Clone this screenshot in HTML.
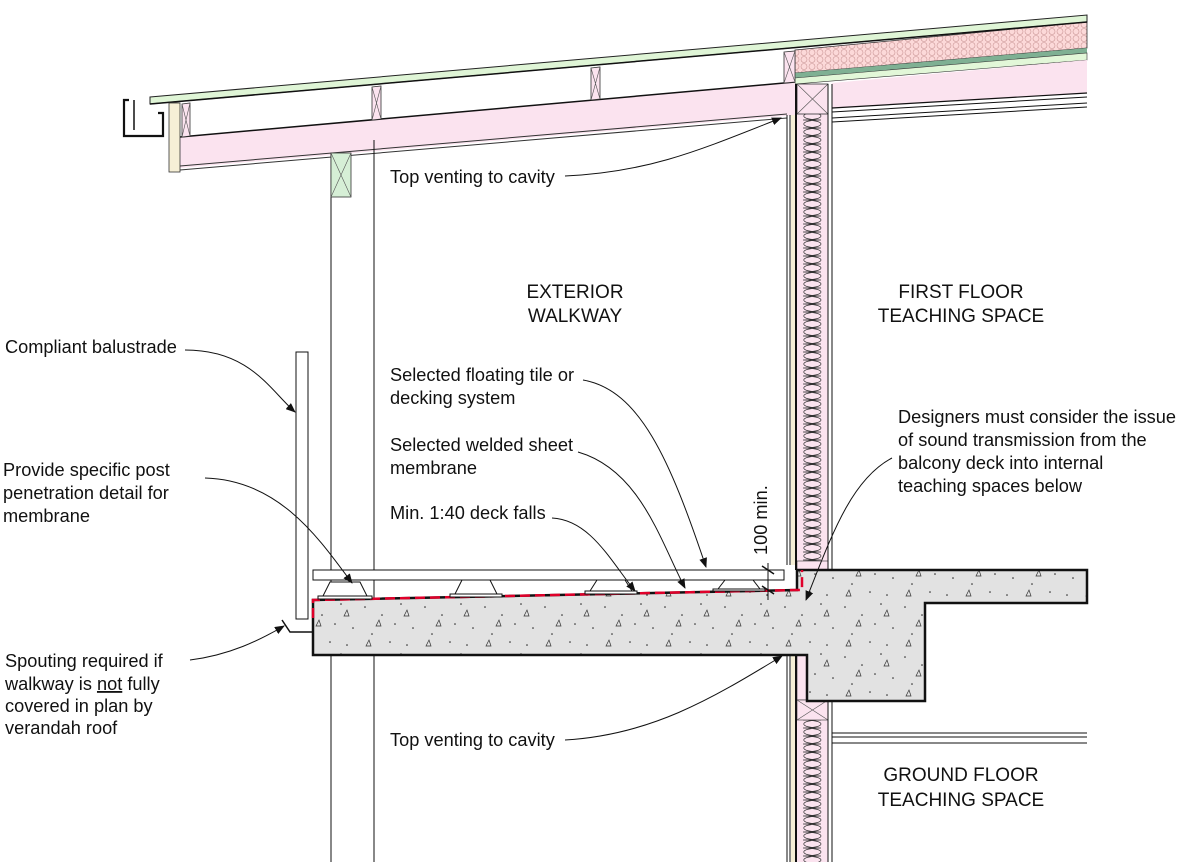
<!DOCTYPE html>
<html><head><style>
html,body{margin:0;padding:0;background:#fff;}
svg{display:block;}
text{font-family:"Liberation Sans",sans-serif;font-size:18.2px;fill:#111;}
.h{font-size:19px;}
</style></head><body>
<svg width="1185" height="862" viewBox="0 0 1185 862">
<defs>
<pattern id="conc" width="60" height="50" patternUnits="userSpaceOnUse">
<rect width="60" height="50" fill="#e2e2e2"/>
<g fill="#222"><circle cx="5" cy="7" r="0.8"/><circle cx="22" cy="15" r="0.8"/><circle cx="41" cy="4" r="0.8"/><circle cx="53" cy="28" r="0.8"/><circle cx="12" cy="34" r="0.8"/><circle cx="30" cy="42" r="0.8"/><circle cx="47" cy="45" r="0.8"/><circle cx="35" cy="24" r="0.8"/></g>
<g fill="none" stroke="#333" stroke-width="0.7"><path d="M16 26 l3 -6 l2 6z"/><path d="M44 16 l3 -6 l2 6z"/><path d="M6 46 l3 -6 l2 6z"/></g>
</pattern>
<pattern id="hex" width="8" height="7" patternUnits="userSpaceOnUse">
<rect width="8" height="7" fill="#fcd9d9"/>
<circle cx="4" cy="3.5" r="3" fill="none" stroke="#c99" stroke-width="0.6"/>
</pattern>
<pattern id="ins" x="797" y="0" width="31" height="16" patternUnits="userSpaceOnUse">
<rect width="31" height="16" fill="#fbe3ef"/>
<path d="M6 0 C30 0 30 8 6 8 C30 8 30 16 6 16 M24 0 C1 0 1 8 24 8 C1 8 1 16 24 16" fill="none" stroke="#333" stroke-width="0.7"/>
</pattern>
<marker id="ar" markerWidth="10" markerHeight="8" refX="9" refY="4" orient="auto" markerUnits="userSpaceOnUse"><path d="M0 0 L10 4 L0 8z" fill="#111"/></marker>
</defs>

<!-- right roof build-up -->
<polygon points="795,50 1087,22 1087,48 795,73" fill="url(#hex)" stroke="#333" stroke-width="0.8"/>
<polygon points="795,73 1087,48 1087,53 795,78" fill="#7fb093"/>
<polygon points="795,78 1087,53 1087,60 795,84" fill="#e2f7d8" stroke="#333" stroke-width="0.6"/>
<polygon points="832,83 1087,60 1087,93 832,108" fill="#fbe3ef"/>
<line x1="832" y1="108" x2="1087" y2="93" stroke="#111" stroke-width="1.2"/>
<line x1="832" y1="112" x2="1087" y2="97" stroke="#111" stroke-width="1"/>
<line x1="832" y1="118" x2="1087" y2="103" stroke="#111" stroke-width="1"/>
<line x1="832" y1="122" x2="1087" y2="107" stroke="#111" stroke-width="1"/>

<!-- roofing sheet -->
<polygon points="150,97 1087,15 1087,22 150,104" fill="#dff5d6" stroke="#222" stroke-width="1"/>
<line x1="150" y1="104" x2="1087" y2="22" stroke="#111" stroke-width="1.5"/>

<!-- rafter -->
<polygon points="180,137 795,82 795,115 180,168" fill="#fbe3ef"/>
<line x1="180" y1="137" x2="795" y2="82" stroke="#111" stroke-width="1.5"/>
<line x1="180" y1="166" x2="787" y2="114" stroke="#333" stroke-width="1"/>
<line x1="180" y1="170" x2="787" y2="118" stroke="#333" stroke-width="1"/>

<!-- purlins -->
<g fill="#fbe3ef" stroke="#333" stroke-width="0.8">
<polygon points="182,104 190,103 190,136 182,137"/>
<polygon points="372,87 381,86 381,119 372,120"/>
<polygon points="591,68 600,67 600,99 591,100"/>
<polygon points="784,52 795,51 795,82 784,83"/>
</g>
<g stroke="#555" stroke-width="0.6"><path d="M182,104 L190,136 M190,103 L182,137 M372,87 L381,119 M381,86 L372,120 M591,68 L600,99 M600,67 L591,100 M784,52 L795,82 M795,51 L784,83"/></g>

<!-- fascia & gutter -->
<rect x="169" y="103" width="11" height="69" fill="#f6efd6" stroke="#333" stroke-width="0.8"/>
<path d="M129,100 L124,100 L124,136 L163,136 L163,113 L158,113" fill="none" stroke="#111" stroke-width="2.2"/>
<path d="M134,100 L134,130" fill="none" stroke="#111" stroke-width="1.5"/>

<!-- post -->
<line x1="331" y1="153" x2="331" y2="862" stroke="#111" stroke-width="1"/>
<line x1="374" y1="140" x2="374" y2="862" stroke="#111" stroke-width="1"/>
<rect x="331" y="153" width="20" height="44" fill="#d6efd6" stroke="#333" stroke-width="0.8"/>
<path d="M331,153 L351,197 M351,153 L331,197" stroke="#555" stroke-width="0.6"/>

<!-- wall upper -->
<rect x="791" y="115" width="4" height="450" fill="#f6efd6"/>
<rect x="797" y="84" width="31" height="486" fill="url(#ins)"/>
<rect x="797" y="84" width="31" height="30" fill="#fbe3ef" stroke="#333" stroke-width="0.8"/>
<path d="M797,84 L828,114 M828,84 L797,114" stroke="#555" stroke-width="0.6"/>
<rect x="797" y="561" width="31" height="9" fill="#fbe3ef" stroke="#333" stroke-width="0.6"/>
<line x1="787" y1="115" x2="787" y2="565" stroke="#111" stroke-width="1"/>
<line x1="790" y1="115" x2="790" y2="565" stroke="#111" stroke-width="1"/>
<line x1="796" y1="84" x2="796" y2="570" stroke="#111" stroke-width="2"/>
<line x1="828" y1="84" x2="828" y2="570" stroke="#111" stroke-width="1"/>
<line x1="832" y1="84" x2="832" y2="570" stroke="#111" stroke-width="1"/>

<!-- wall lower -->
<rect x="791" y="655" width="4" height="207" fill="#f6efd6"/>
<rect x="797" y="700" width="31" height="162" fill="url(#ins)"/>
<rect x="797" y="655" width="10" height="45" fill="#fbe3ef" stroke="#333" stroke-width="0.6"/>
<rect x="797" y="700" width="31" height="20" fill="#fbe3ef" stroke="#333" stroke-width="0.6"/>
<path d="M797,700 L828,720 M828,700 L797,720" stroke="#555" stroke-width="0.6"/>
<line x1="787" y1="655" x2="787" y2="862" stroke="#111" stroke-width="1"/>
<line x1="790" y1="655" x2="790" y2="862" stroke="#111" stroke-width="1"/>
<line x1="796" y1="655" x2="796" y2="862" stroke="#111" stroke-width="2"/>
<line x1="828" y1="700" x2="828" y2="862" stroke="#111" stroke-width="1"/>
<line x1="832" y1="700" x2="832" y2="862" stroke="#111" stroke-width="1"/>
<line x1="832" y1="733" x2="1087" y2="733" stroke="#111"/>
<line x1="832" y1="737" x2="1087" y2="737" stroke="#111"/>
<line x1="832" y1="743" x2="1087" y2="743" stroke="#111"/>

<!-- slab -->
<polygon points="313,600 797,590 797,570 1087,570 1087,603 925,603 925,701 807,701 807,655 313,655" fill="url(#conc)" stroke="#111" stroke-width="2.5"/>
<polyline points="313,618 313,600 797,590 802,590 802,570" fill="none" stroke="#e0002a" stroke-width="2.5" stroke-dasharray="10,5"/>

<!-- deck -->
<rect x="313" y="570" width="471" height="10" fill="#fff" stroke="#111" stroke-width="1"/>
<g fill="#fff" stroke="#111" stroke-width="1">
<path d="M323,596 L330,582 L360,582 L367,596z"/><rect x="318" y="596" width="54" height="3"/>
<path d="M455,594 L462,580 L490,580 L497,594z"/><rect x="450" y="594" width="52" height="3"/>
<path d="M590,591 L597,580 L625,580 L632,591z"/><rect x="585" y="591" width="52" height="3"/>
<path d="M718,589 L725,580 L753,580 L760,589z"/><rect x="713" y="589" width="52" height="2"/>
</g>

<!-- balustrade & spouting -->
<rect x="296" y="352" width="12" height="267" fill="#fff" stroke="#111" stroke-width="1"/>
<path d="M282,620 L290,632 L313,632" fill="none" stroke="#111" stroke-width="1.5"/>

<!-- dimension -->
<line x1="768" y1="563" x2="768" y2="600" stroke="#111" stroke-width="1"/>
<line x1="762" y1="566" x2="774" y2="574" stroke="#111" stroke-width="1.5"/>
<line x1="762" y1="586" x2="774" y2="594" stroke="#111" stroke-width="1.5"/>
<text x="0" y="0" transform="translate(767,555) rotate(-90)">100 min.</text>

<!-- leaders -->
<g fill="none" stroke="#111" stroke-width="1" marker-end="url(#ar)">
<path d="M565,176 C650,172 700,150 781,118"/>
<path d="M565,740 C650,735 710,700 782,656"/>
<path d="M185,350 C250,350 270,390 295,412"/>
<path d="M205,478 C280,480 320,540 352,583"/>
<path d="M190,660 C230,655 260,640 284,626"/>
<path d="M583,380 C640,390 670,460 706,567"/>
<path d="M578,452 C640,470 660,540 685,588"/>
<path d="M552,518 C590,520 610,560 635,591"/>
<path d="M892,458 C850,480 830,540 806,600"/>
</g>

<!-- labels -->
<text x="390" y="183">Top venting to cavity</text>
<text x="390" y="746">Top venting to cavity</text>
<text class="h" x="575" y="298" text-anchor="middle">EXTERIOR</text>
<text class="h" x="575" y="322" text-anchor="middle">WALKWAY</text>
<text class="h" x="961" y="298" text-anchor="middle">FIRST FLOOR</text>
<text class="h" x="961" y="322" text-anchor="middle">TEACHING SPACE</text>
<text class="h" x="961" y="781" text-anchor="middle">GROUND FLOOR</text>
<text class="h" x="961" y="806" text-anchor="middle">TEACHING SPACE</text>
<text x="5" y="353">Compliant balustrade</text>
<text x="3" y="476">Provide specific post</text>
<text x="3" y="499">penetration detail for</text>
<text x="3" y="522">membrane</text>
<text x="5" y="667">Spouting required if</text>
<text x="5" y="690">walkway is <tspan text-decoration="underline">not</tspan> fully</text>
<text x="5" y="712">covered in plan by</text>
<text x="5" y="734">verandah roof</text>
<text x="390" y="381">Selected floating tile or</text>
<text x="390" y="404">decking system</text>
<text x="390" y="451">Selected welded sheet</text>
<text x="390" y="474">membrane</text>
<text x="390" y="519">Min. 1:40 deck falls</text>
<text x="898" y="423">Designers must consider the issue</text>
<text x="898" y="446">of sound transmission from the</text>
<text x="898" y="469">balcony deck into internal</text>
<text x="898" y="492">teaching spaces below</text>
</svg>
</body></html>
